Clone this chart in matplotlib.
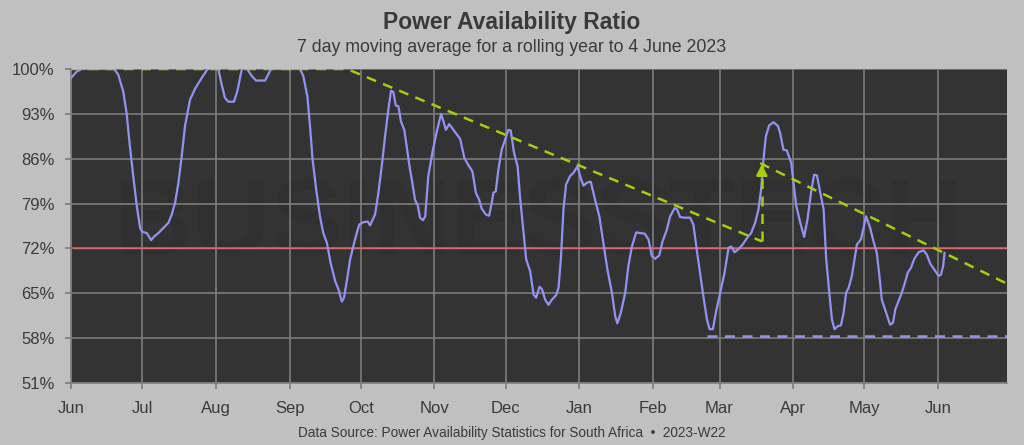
import numpy as np
import matplotlib
matplotlib.use('Agg')
import matplotlib.pyplot as plt
import matplotlib.dates as mdates
import pandas as pd

# 7 day moving average (days since 1 June 2022, percent)
days = [0, 2.4, 4.5, 18.2, 19.9, 22, 23.4, 24.8, 26.2, 27.7, 29.1, 30, 31.9, 33.7, 35.1,
        36.8, 38.9, 41, 42.4, 43.8, 45.2, 46.6, 48, 50.1, 52.2, 55, 57.5, 62, 63.4, 64.8,
        66.2, 68.6, 70, 71.9, 74.2, 76.1, 77.9, 81.7, 84.2, 96.4, 97.8, 99.5, 100.6, 101.7,
        103.2, 104.8, 106.2, 107.7, 109.3, 111.2, 112.6, 114, 114.9, 116.1, 117.5, 119.2,
        121.3, 123.1, 124.9, 125.9, 128, 129.4, 130.8, 132.2, 133.6, 134.7, 135.7, 136.7,
        137.8, 138.9, 140.3, 141.3, 142.5, 143.7, 144.8, 146, 146.9, 148.1, 149.1, 150.4,
        152.1, 154, 155.8, 156.8, 157.8, 159.2, 161.4, 163.8, 165.6, 167.1, 169, 170.4,
        171.8, 172.9, 174.6, 176, 177.1, 177.8, 178.8, 179.9, 181.3, 182.5, 184.1, 185.1,
        186.5, 188, 189, 190.2, 191.6, 193.3, 194.7, 195.8, 197.2, 198.2, 199.6, 201,
        202.4, 204.2, 205.2, 206.2, 207.3, 208.4, 210.1, 211.5, 213.2, 214.3, 215.7,
        217.4, 218.8, 220.6, 222.4, 224.1, 225.8, 227.7, 229.1, 230, 231.4, 233.3, 234.6,
        236.1, 237.9, 239.6, 241.5, 243.1, 244.5, 245.9, 247.6, 249, 250.8, 252.2, 254.1,
        255.1, 256.4, 258.3, 260.6, 262, 263.4, 264.8, 266.2, 267.7, 268.8, 270.2, 271.4,
        273.3, 275.1, 276.8, 277.9, 279.3, 281, 282.7, 284.5, 286.3, 288, 289.4, 290.5,
        291.5, 292.5, 293.9, 295.7, 297.6, 298.5, 299.9, 301.3, 303.2, 304.3, 305.3, 307,
        308.6, 310, 311.5, 312.8, 314, 315.4, 316.8, 317.9, 319.2, 320.3, 321.4, 322.9,
        324.1, 325.2, 326.3, 327.3, 328.7, 330.8, 332.5, 334.7, 336.4, 337.8, 339.2,
        340.3, 341.3, 343.2, 344.8, 346, 347, 349.1, 350.7, 352.2, 353.6, 355, 356.8,
        358.9, 360.3, 361.7, 363.4, 365.2, 366.2, 367.1, 367.7]
avail = [98.6, 99.6, 100, 100, 99.1, 96.5, 93.1, 87.9, 83.3, 78.6, 75.2, 74.6, 74.4, 73.3, 73.9,
         74.4, 75.2, 76.0, 77.3, 79.1, 82.2, 86.4, 91.1, 95.2, 96.9, 98.6, 100, 100, 97.6, 95.5,
         94.9, 94.9, 96.5, 100, 100, 98.9, 98.2, 98.2, 100, 100, 98.9, 95.7, 91.1, 85.9,
         81.2, 77.0, 74.4, 72.9, 69.7, 66.9, 65.6, 63.7, 64.3, 66.9, 70.3, 72.9,
         75.7, 76.1, 76.2, 75.6, 77.3, 80.7, 84.8, 89.5, 93.7, 96.6, 96.4, 94.3,
         94.2, 91.8, 90.5, 87.9, 84.8, 82.2, 79.6, 78.7, 76.8, 76.4, 77.0, 83.3,
         86.9, 90.3, 93.0, 91.8, 90.5, 91.4, 90.3, 89.1, 86.1, 85.1, 84.0, 80.7,
         79.6, 78.2, 77.3, 77.1, 79.1, 80.7, 80.9, 84.3, 87.4, 88.7, 90.5, 90.4,
         86.9, 84.8, 80.1, 75.5, 70.3, 68.4, 64.8, 64.3, 66.0, 65.7, 64.0, 63.2,
         64.0, 64.7, 65.8, 70.3, 78.1, 82.0, 83.3, 83.8, 84.8, 83.3, 81.8,
         82.3, 82.4, 79.6, 77.0, 72.9, 68.7, 65.1, 61.4, 60.3, 61.9, 65.1, 69.2,
         72.3, 74.5, 74.4, 74.3, 73.4, 70.8, 70.4, 70.9, 73.1, 74.9, 77.0, 78.3,
         78.1, 76.9, 76.8, 76.8, 75.7, 71.8, 68.2, 64.5, 60.9, 59.4, 59.4, 61.9,
         65.1, 68.2, 72.1, 72.3, 71.4, 71.9, 72.6, 73.6, 74.4, 76.0, 78.1, 81.2,
         85.9, 89.5, 91.2, 91.7, 91.1, 90.0, 87.4, 87.3, 85.3, 81.7, 78.6, 76.0,
         73.8, 76.5, 80.7, 83.5, 83.4, 80.7, 78.1, 70.3, 65.1, 60.9, 59.4, 59.9,
         60.0, 61.9, 65.1, 65.8, 67.7, 72.6, 73.4, 77.0, 75.2, 73.1, 71.3,
         67.7, 64.0, 61.9, 60.1, 60.4, 62.5, 64.5, 66.2, 68.2, 69.0, 70.4, 71.4,
         71.7, 71.0, 69.6, 68.7, 67.7, 67.9, 69.2, 71.3]

# trend lines (days, percent)
trend1_days = [0, 116.2, 290.8]
trend1_vals = [100, 100, 73.1]
arrow_day = 290.8
arrow_vals = [73.1, 85.6]
trend2_days = [290.1, 394]
trend2_vals = [85.3, 66.5]
floor_days = [267.7, 394]
floor_val = 58.3
target_val = 72

yticks = [51, 58, 65, 72, 79, 86, 93, 100]

start = pd.Timestamp('2022-06-01')
def to_date(d):
    return start + pd.to_timedelta(np.asarray(d, dtype=float), unit='D')

bg = '#c0c0c0'
panel = '#333333'
text_col = '#3a3a3a'
blue = '#9292f2'
green = '#a3cf0c'
red = '#d96b6b'
grid_col = '#7c7c7c'

plt.rcParams['font.family'] = ['Liberation Sans', 'DejaVu Sans']

fig = plt.figure(figsize=(10.24, 4.45), dpi=100, facecolor=bg)
ax = fig.add_axes([71/1024, 1-383/445, 936/1024, 314/445])
ax.set_facecolor(panel)

# faint watermark
ax.text(0.5, 0.5, 'BUSINESSTECH', transform=ax.transAxes, ha='center', va='center',
        fontsize=78, fontweight='bold', color='black', alpha=0.06, zorder=0)

ax.plot(to_date(days), avail, color=blue, lw=1.6, zorder=4)
ax.plot(to_date([0.8, 394]), [target_val, target_val], color=red, lw=1.0, zorder=3)
ax.plot(to_date(trend1_days), trend1_vals, color=green, lw=1.8, ls=(0, (4, 3)), zorder=5)
ax.plot(to_date([arrow_day, arrow_day]), [arrow_vals[0], arrow_vals[1] - 1.5], color=green,
        lw=1.8, ls=(0, (4, 3)), zorder=5)
ax.annotate('', xy=(to_date(arrow_day), arrow_vals[1]),
            xytext=(to_date(arrow_day), arrow_vals[1] - 2.5),
            arrowprops=dict(arrowstyle='-|>', color=green, lw=1.8, mutation_scale=16), zorder=5)
ax.plot(to_date(trend2_days), trend2_vals, color=green, lw=1.8, ls=(0, (4, 3)), zorder=5)
ax.plot(to_date(floor_days), [floor_val, floor_val], color=blue, lw=1.8, ls=(0, (4, 3)), zorder=5)

ax.set_xlim(start, pd.Timestamp('2023-06-30'))
ax.set_ylim(51, 100)
ax.set_yticks(yticks)
ax.set_yticklabels([f'{v}%' for v in yticks])
ax.xaxis.set_major_locator(mdates.MonthLocator())
ax.xaxis.set_major_formatter(mdates.DateFormatter('%b'))
ax.grid(True, color=grid_col, lw=1.2, zorder=1)
ax.set_axisbelow(True)
for s in ['top', 'right']:
    ax.spines[s].set_visible(False)
for s in ['left', 'bottom']:
    ax.spines[s].set_color(grid_col)
    ax.spines[s].set_linewidth(1.2)
ax.tick_params(colors=grid_col, labelcolor=text_col, labelsize=12, length=4, width=1.2)
ax.tick_params(axis='y', pad=8)
ax.tick_params(axis='x', pad=9)

fig.text(0.5, 1-22/445, 'Power Availability Ratio', ha='center', va='center',
         fontsize=16.5, fontweight='bold', color=text_col)
fig.text(0.5, 1-47/445, '7 day moving average for a rolling year to 4 June 2023',
         ha='center', va='center', fontsize=12.8, color=text_col)
fig.text(0.5, 1-433/445, 'Data Source: Power Availability Statistics for South Africa  \u2022  2023-W22',
         ha='center', va='center', fontsize=9.8, color=text_col)

fig.savefig('out.png', dpi=100, facecolor=bg)
